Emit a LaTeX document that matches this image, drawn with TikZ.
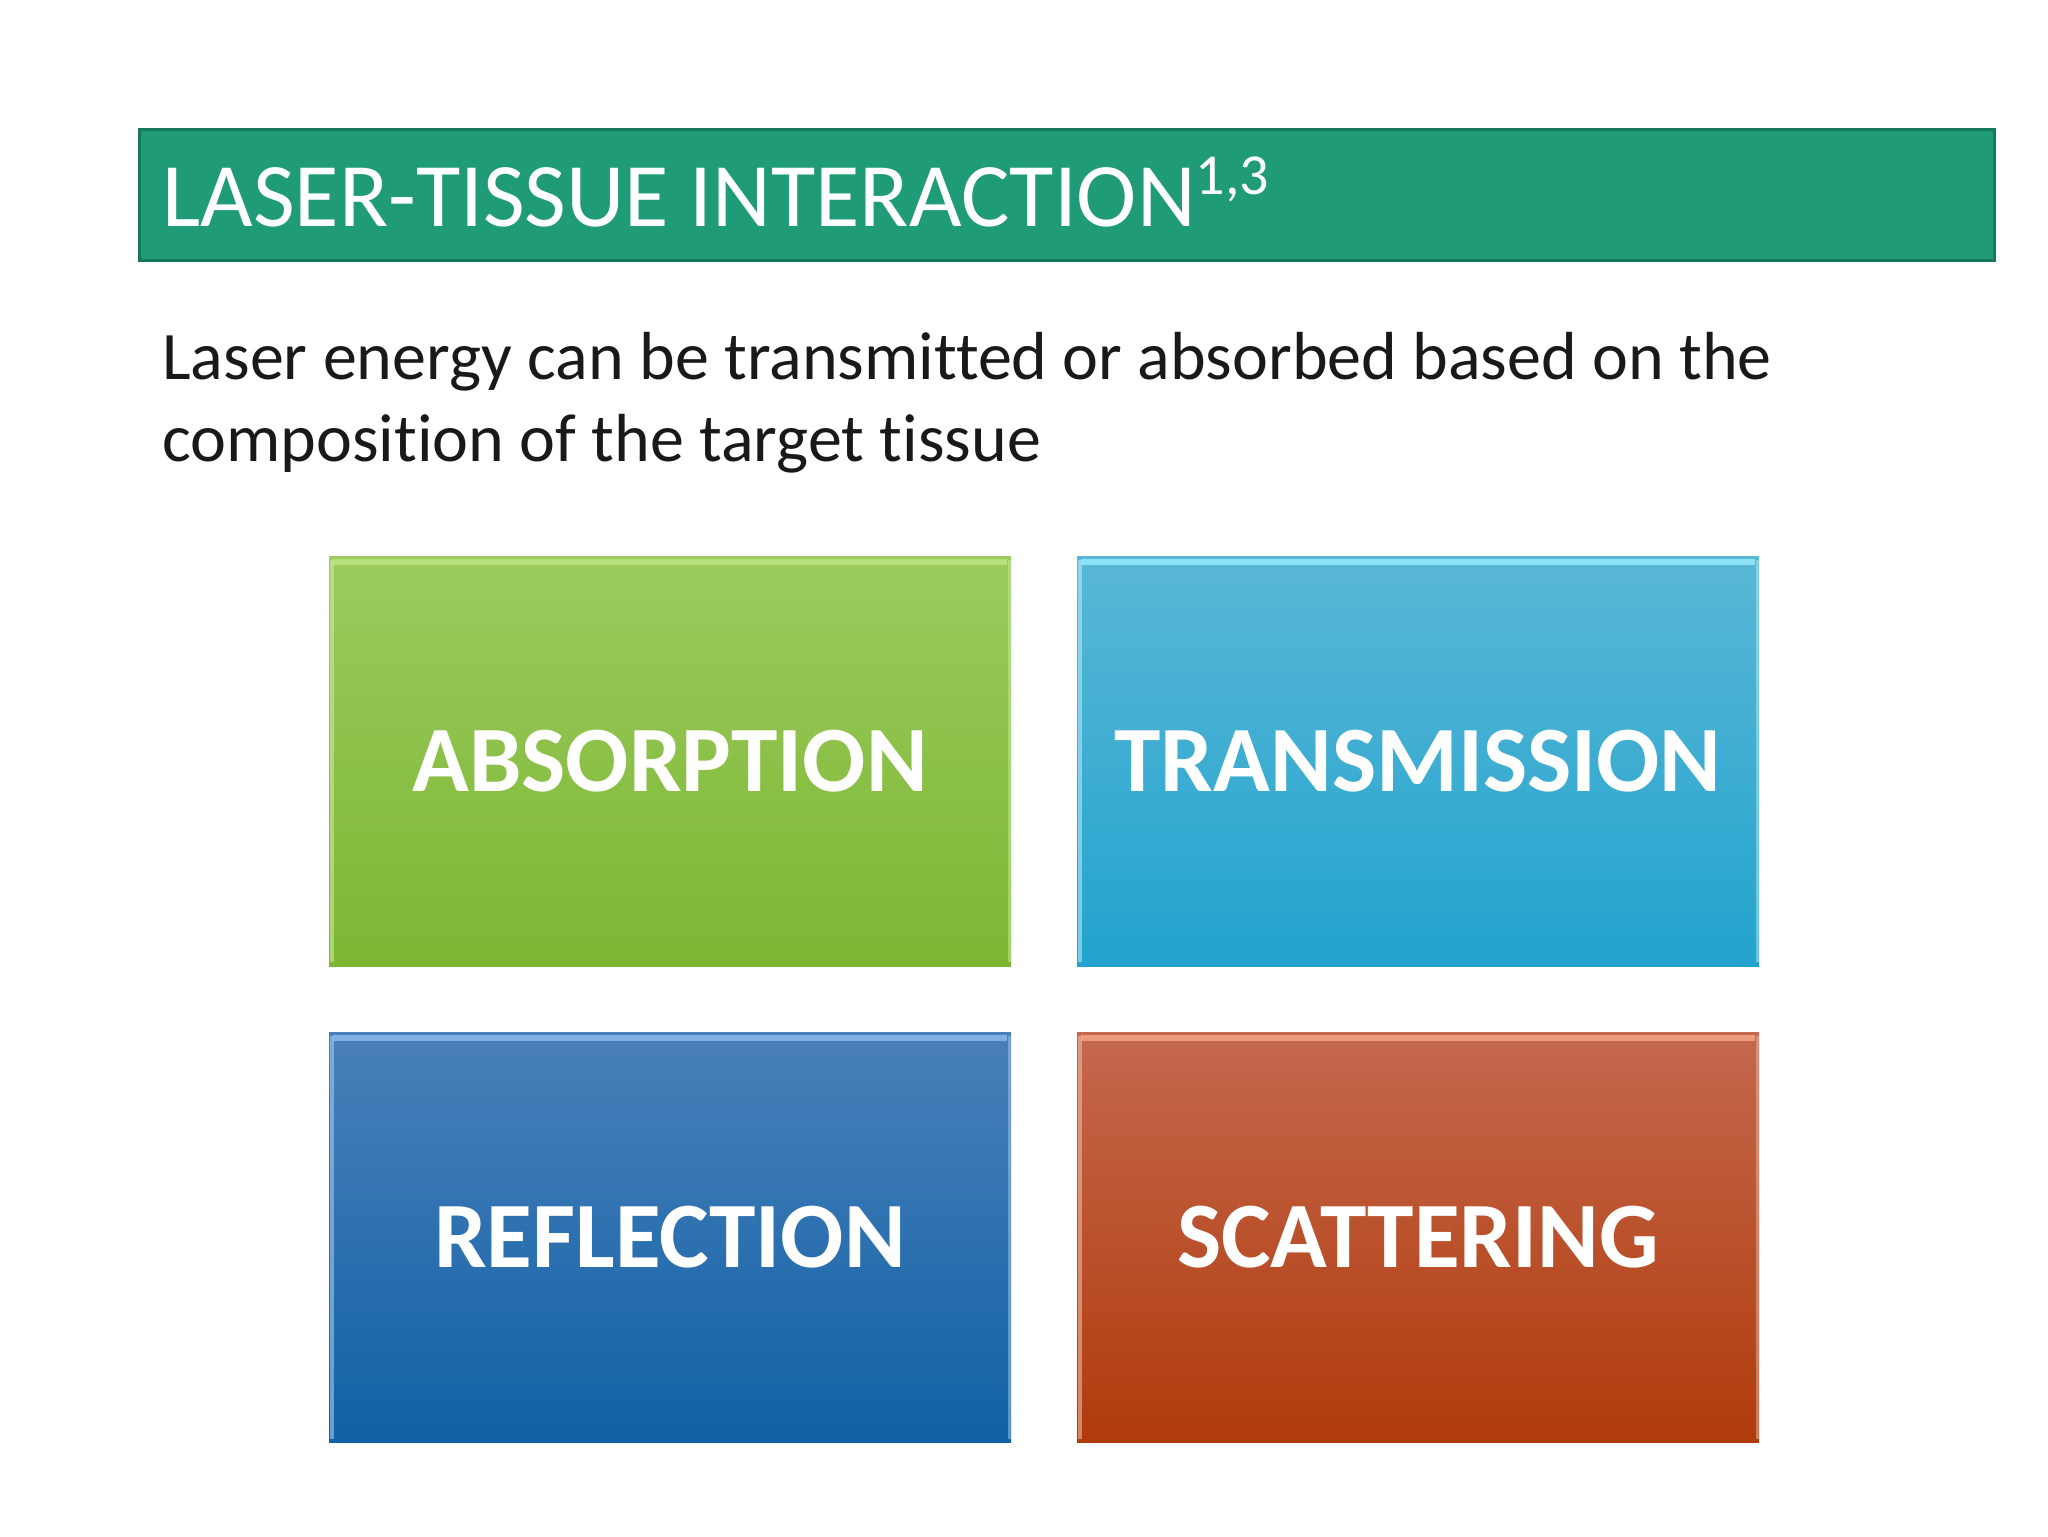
\documentclass[tikz,border=0pt]{standalone}
\usepackage{fontspec}
\setmainfont[Ligatures=NoCommon]{Carlito}
\begin{document}
\begin{tikzpicture}[x=0.5pt,y=-0.5pt,
  hdr/.style={fill=hdrfill,draw=hdrline,line width=1.5pt},
  tile/.style={minimum width=341pt,minimum height=205pt,inner sep=0pt,text=white,
    font=\fontsize{46.8}{56}\selectfont\bfseries},
  bevel/.style={line width=3pt}]
\definecolor{hdrfill}{HTML}{209B78}
\definecolor{hdrline}{HTML}{17795C}
\definecolor{gA}{HTML}{9BCB5E}\definecolor{gB}{HTML}{7DB633}\definecolor{gL}{HTML}{B5E07C}
\definecolor{tA}{HTML}{5AB7D6}\definecolor{tB}{HTML}{22A3CE}\definecolor{tL}{HTML}{8EE2F5}
\definecolor{rA}{HTML}{4A80B9}\definecolor{rB}{HTML}{1061A6}\definecolor{rL}{HTML}{7FB0E2}
\definecolor{sA}{HTML}{C4684E}\definecolor{sB}{HTML}{B03B0B}\definecolor{sL}{HTML}{EE9A7E}
\useasboundingbox (0,0) rectangle (2048,1536);
\fill[white] (0,0) rectangle (2048,1536);
% header
\draw[hdr] (139,129) rectangle (1994,260);
\node[anchor=base west,inner sep=0pt,text=white,font=\fontsize{45.4}{54}\selectfont] (title) at (162,226) {LASER-TISSUE INTERACTION\raisebox{16pt}{\fontsize{29}{30}\selectfont 1,3}};
% body text
\node[anchor=base west,inner sep=0pt,text=black!90,font=\fontsize{34}{41}\selectfont] (body) at (162,379) {Laser energy can be transmitted or absorbed based on the};
\node[anchor=base west,inner sep=0pt,text=black!90,font=\fontsize{34}{41}\selectfont] (body2) at (162,461) {composition of the target tissue};
% tiles
\node[tile,top color=gA,bottom color=gB] (abs) at (670,761) {ABSORPTION};
\node[tile,top color=tA,bottom color=tB] (tra) at (1418,761) {TRANSMISSION};
\node[tile,top color=rA,bottom color=rB] (ref) at (670,1237.5) {REFLECTION};
\node[tile,top color=sA,bottom color=sB] (sca) at (1418,1237.5) {SCATTERING};
% bevels
\foreach \n/\c in {abs/gL,tra/tL,ref/rL,sca/sL}{
  \draw[bevel,\c] ([xshift=2pt,yshift=-3pt]\n.north west) -- ([xshift=-2pt,yshift=-3pt]\n.north east);
  \draw[line width=2pt,\c!70!white,opacity=0.6] ([xshift=1.5pt,yshift=-2pt]\n.north west) -- ([xshift=1.5pt,yshift=2pt]\n.south west);
  \draw[line width=1.5pt,\c!70!white,opacity=0.5] ([xshift=-1pt,yshift=-2pt]\n.north east) -- ([xshift=-1pt,yshift=2pt]\n.south east);
}
\end{tikzpicture}
\end{document}
